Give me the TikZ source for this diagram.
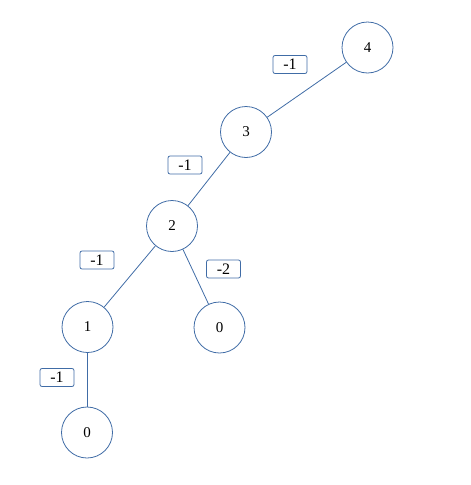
\documentclass[tikz,border=0pt]{standalone}
\usepackage{fontspec}
\setmainfont{Liberation Serif}
\definecolor{edgeblue}{RGB}{64,108,166}
\begin{document}
\begin{tikzpicture}[x=1pt,y=-1pt,
  tnode/.style={circle,draw=edgeblue,line width=0.8pt,minimum size=51pt,inner sep=0pt,font=\fontsize{15}{17}\selectfont},
  wlabel/.style={draw=edgeblue,line width=0.8pt,rounded corners=2pt,minimum width=34pt,minimum height=18pt,inner sep=0pt,font=\fontsize{16}{18}\selectfont},
  tedge/.style={draw=edgeblue,line width=0.8pt}]
\useasboundingbox (0,0) rectangle (471,485);
\node[tnode] (n4) at (367.5,47.5) {4};
\node[tnode] (n3) at (246,132) {3};
\node[tnode] (n2) at (172,226) {2};
\node[tnode] (n1) at (87.5,327) {1};
\node[tnode] (n0a) at (219.5,327.5) {0};
\node[tnode] (n0b) at (87,432.5) {0};
\draw[tedge] (n4) -- (n3);
\draw[tedge] (n3) -- (n2);
\draw[tedge] (n2) -- (n1);
\draw[tedge] (n2) -- (n0a);
\draw[tedge] (n1.south) -- (n1.south |- n0b.north);
\node[wlabel] (l43) at (290,64.5) {-1};
\node[wlabel] (l32) at (185,165) {-1};
\node[wlabel] (l21) at (97,260) {-1};
\node[wlabel] (l20) at (223.5,269) {-2};
\node[wlabel] (l10) at (57,377.5) {-1};
\end{tikzpicture}
\end{document}
